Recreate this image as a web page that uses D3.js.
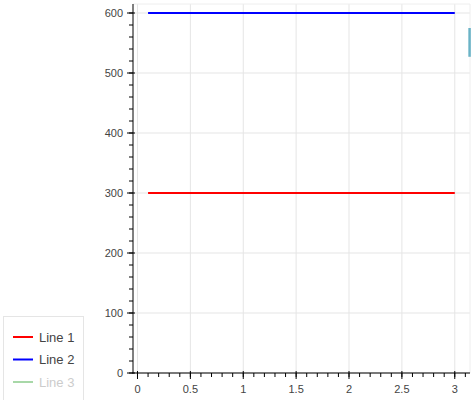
<!doctype html>
<html>
<head>
    <style>
        body { margin: 0; background: #fff; }
        text { font-family: Helvetica, "Liberation Sans", Arial, sans-serif; }
    </style>
    <script src="https://d3js.org/d3.v7.min.js"></script>
    <title>lines</title>
</head>
<body>
<svg width="474" height="400"></svg>
<script>
// data
var lineNames = ["Line 1", "Line 2", "Line 3"];
var lineColors = ["red", "blue", "#a8d8a8"];
var line1X = [0.1, 3], line1Y = [300, 300];
var line2X = [0.1, 3], line2Y = [600, 600];
var xTicks = [0, 0.5, 1, 1.5, 2, 2.5, 3];
var yTicks = [0, 100, 200, 300, 400, 500, 600];
var spanX = [3.14, 3.14], spanY = [527, 575];

var svg = d3.select("svg");

var pLeft = 133, pRight = 470, pTop = 4, pBottom = 373;

var x = d3.scaleLinear().domain([-0.0425, 3.144]).range([pLeft, pRight]);
var y = d3.scaleLinear().domain([0, 615]).range([pBottom, pTop]);

// grid
var g = svg.append("g");
g.selectAll(".gx").data(xTicks).enter().append("line")
    .attr("x1", function(d) { return x(d); }).attr("x2", function(d) { return x(d); })
    .attr("y1", pTop).attr("y2", pBottom)
    .attr("stroke", "#e5e5e5").attr("stroke-width", 1);
g.selectAll(".gy").data(yTicks).enter().append("line")
    .attr("x1", pLeft).attr("x2", pRight)
    .attr("y1", function(d) { return y(d); }).attr("y2", function(d) { return y(d); })
    .attr("stroke", "#e5e5e5").attr("stroke-width", 1);

// frame top/right faint
svg.append("line").attr("x1", pLeft).attr("x2", pRight).attr("y1", pTop).attr("y2", pTop).attr("stroke", "#eeeeee");
svg.append("line").attr("x1", pRight).attr("x2", pRight).attr("y1", pTop).attr("y2", pBottom).attr("stroke", "#eeeeee");

// lines
var line = d3.line().x(function(d) { return x(d[0]); }).y(function(d) { return y(d[1]); });
svg.append("path").datum(d3.zip(line1X, line1Y)).attr("d", line)
    .attr("fill", "none").attr("stroke", lineColors[0]).attr("stroke-width", 2);
svg.append("path").datum(d3.zip(line2X, line2Y)).attr("d", line)
    .attr("fill", "none").attr("stroke", lineColors[1]).attr("stroke-width", 2);
svg.append("path").datum(d3.zip(spanX, spanY)).attr("d", line)
    .attr("fill", "none").attr("stroke", "#6ab3c6").attr("stroke-width", 2.5);

// axes
var xMinor = d3.range(0, 32).map(function(i) { return i / 10; });
var xAxis = svg.append("g").attr("transform", "translate(0," + pBottom + ")");
xAxis.append("line").attr("x1", pLeft - 0.5).attr("x2", pRight).attr("stroke", "#000");
xAxis.selectAll(".mn").data(xMinor).enter().append("line")
    .attr("x1", function(d) { return x(d); }).attr("x2", function(d) { return x(d); })
    .attr("y1", 0).attr("y2", 4).attr("stroke", "#000");
xAxis.selectAll(".mj").data(xTicks).enter().append("line")
    .attr("x1", function(d) { return x(d); }).attr("x2", function(d) { return x(d); })
    .attr("y1", -2).attr("y2", 6).attr("stroke", "#000");
xAxis.selectAll("text").data(xTicks).enter().append("text")
    .attr("x", function(d) { return x(d); }).attr("y", 20)
    .attr("text-anchor", "middle").attr("fill", "#444").style("font-size", "11px")
    .text(function(d) { return d; });

var yMinor = d3.range(0, 31).map(function(i) { return i * 20; });
var yAxis = svg.append("g").attr("transform", "translate(" + pLeft + ",0)");
yAxis.append("line").attr("y1", pTop).attr("y2", pBottom + 0.5).attr("stroke", "#000");
yAxis.selectAll(".mn").data(yMinor).enter().append("line")
    .attr("y1", function(d) { return y(d); }).attr("y2", function(d) { return y(d); })
    .attr("x1", 0).attr("x2", -4).attr("stroke", "#000");
yAxis.selectAll(".mj").data(yTicks).enter().append("line")
    .attr("y1", function(d) { return y(d); }).attr("y2", function(d) { return y(d); })
    .attr("x1", 2).attr("x2", -6).attr("stroke", "#000");
yAxis.selectAll("text").data(yTicks).enter().append("text")
    .attr("x", -10).attr("y", function(d) { return y(d); }).attr("dy", "0.35em")
    .attr("text-anchor", "end").attr("fill", "#444").style("font-size", "11px")
    .text(function(d) { return d; });

// legend
var lg = svg.append("g").attr("transform", "translate(3,316)");
lg.append("rect").attr("x", 0.5).attr("y", 0.5).attr("width", 80).attr("height", 90)
    .attr("fill", "#fff").attr("stroke", "#e5e5e5");
lineNames.forEach(function(name, i) {
    var yy = 21 + i * 22.5;
    lg.append("line").attr("x1", 10).attr("x2", 30).attr("y1", yy).attr("y2", yy)
        .attr("stroke", lineColors[i]).attr("stroke-width", 2);
    lg.append("text").attr("x", 36).attr("y", yy).attr("dy", "0.35em")
        .attr("fill", i == 2 ? "#cccccc" : "#444").style("font-size", "13px")
        .text(name);
});
</script>
</body>
</html>
